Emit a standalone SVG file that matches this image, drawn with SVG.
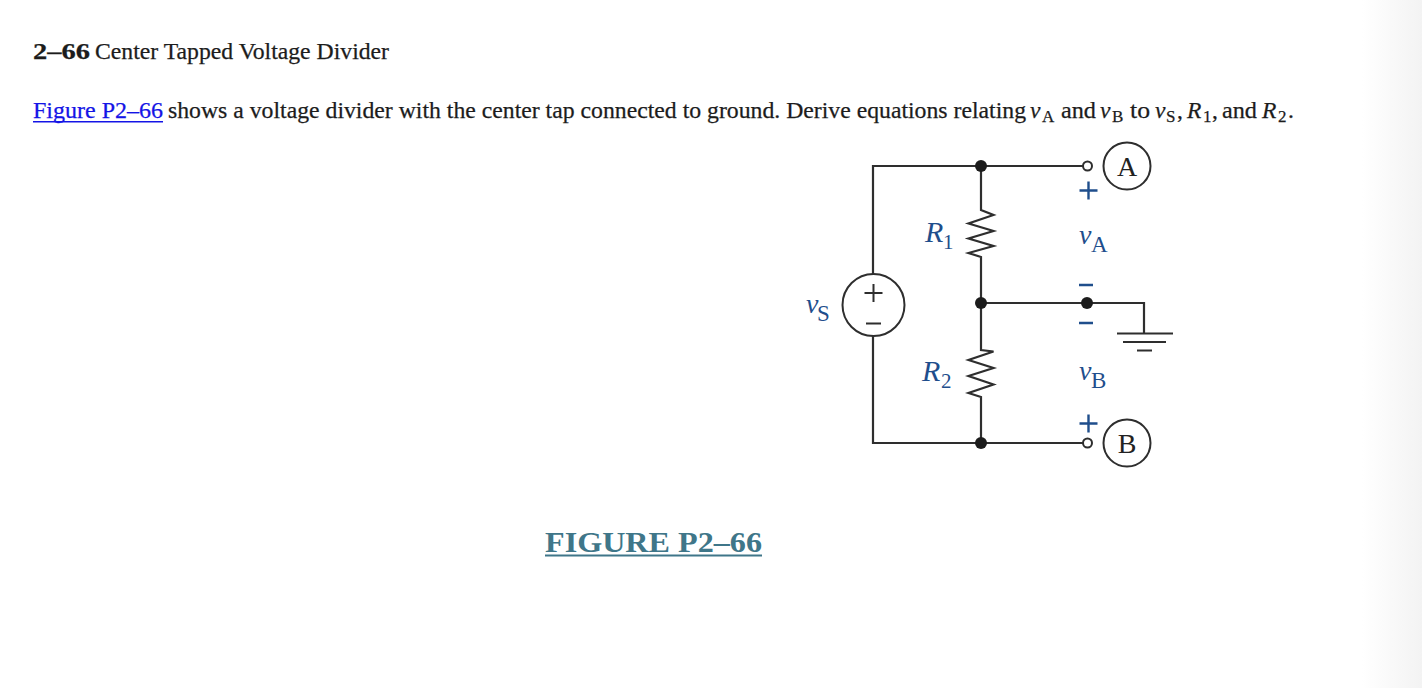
<svg xmlns="http://www.w3.org/2000/svg" width="1422" height="688" viewBox="0 0 1422 688">
<style>
.t{font-family:"Liberation Serif","Times New Roman",serif;font-size:23.5px;fill:#1c1c1c;stroke:#1c1c1c;stroke-width:.25}
.i{font-style:italic}
.s{font-size:17px}
.w{fill:none;stroke:#2e2e2e;stroke-width:2.2;stroke-linejoin:miter}
.d{fill:#1c1c1c}
.l{font-family:"Liberation Serif","Times New Roman",serif;fill:#1f4e8c}
.p{stroke:#1f4e8c;stroke-width:2.4;fill:none}
.c{fill:#fff;stroke:#2e2e2e;stroke-width:2}
.n{font-family:"Liberation Serif","Times New Roman",serif;font-size:28px;fill:#222;text-anchor:middle}
</style>
<defs>
<linearGradient id="edge" x1="0" x2="1" y1="0" y2="0"><stop offset="0" stop-color="#fff"/><stop offset="1" stop-color="#f3f3f3"/></linearGradient>
</defs>
<rect width="1422" height="688" fill="#fff"/>
<rect x="1362" width="60" height="688" fill="url(#edge)"/>

<g id="heading">
<text class="t" x="33" y="59" font-weight="bold" textLength="57" lengthAdjust="spacingAndGlyphs">2–66</text>
<text class="t" x="95" y="59" textLength="294" lengthAdjust="spacingAndGlyphs">Center Tapped Voltage Divider</text>
</g>
<g id="problem-text">
<text class="t" x="33" y="118" style="fill:#1414e6;stroke:#1414e6" textLength="130" lengthAdjust="spacingAndGlyphs">Figure P2–66</text>
<rect x="33" y="121" width="130" height="1.5" fill="#1414e6"/>
<text class="t" x="168" y="118" textLength="858" lengthAdjust="spacingAndGlyphs">shows a voltage divider with the center tap connected to ground. Derive equations relating</text>
<text class="t i" x="1030" y="118">v</text><text class="t s" x="1042" y="122">A</text>
<text class="t" x="1061" y="118" textLength="35" lengthAdjust="spacingAndGlyphs">and</text>
<text class="t i" x="1100" y="118">v</text><text class="t s" x="1112" y="122">B</text>
<text class="t" x="1130" y="118" textLength="20" lengthAdjust="spacingAndGlyphs">to</text>
<text class="t i" x="1155" y="118">v</text><text class="t s" x="1166" y="122">S</text><text class="t" x="1177" y="118">,</text>
<text class="t i" x="1187" y="118">R</text><text class="t s" x="1203" y="122">1</text><text class="t" x="1212" y="118">,</text>
<text class="t" x="1222" y="118" textLength="35" lengthAdjust="spacingAndGlyphs">and</text>
<text class="t i" x="1262" y="118">R</text><text class="t s" x="1278" y="122">2</text><text class="t" x="1288" y="118">.</text>
</g>

<g id="connectors">
<path class="w" d="M1083 166H873V274M873 336V443H1083"/>
<path class="w" d="M981 166V210L993.500 215L968.500 223.500L993.500 231L968.500 238.500L993.500 246L968.500 253L981 257V303V350L993.500 351.500L968.500 360L993.500 368L968.500 376L993.500 384.500L968.500 393L981 397V443"/>
<path class="w" d="M981 303H1144V333.500"/>
<path class="w" d="M1117 333.500H1173M1123 342H1166M1137 350.500H1152"/>
</g>

<g id="source-vs">
<circle class="c" cx="873.500" cy="305" r="31"/>
<path d="M864.500 293H882.500M873.500 284V302M866 323.500H881" fill="none" stroke="#2e2e2e" stroke-width="2"/>
<text class="l i" x="806" y="313" font-size="28">v</text><text class="l" x="817" y="321" font-size="23">S</text>
</g>
<g id="resistor-r1">
<text class="l i" x="925" y="242" font-size="30">R</text><text class="l" x="943" y="249" font-size="21">1</text>
</g>
<g id="resistor-r2">
<text class="l i" x="922" y="381" font-size="30">R</text><text class="l" x="941" y="388" font-size="21">2</text>
</g>
<g id="junction-top"><circle class="d" cx="981" cy="166" r="6"/></g>
<g id="junction-mid"><circle class="d" cx="981" cy="303" r="6"/></g>
<g id="junction-bottom"><circle class="d" cx="981" cy="443" r="6"/></g>
<g id="terminal-mid"><circle class="d" cx="1087" cy="303" r="6"/></g>
<g id="terminal-a">
<circle cx="1087.500" cy="166" r="4.500" class="c"/>
<circle cx="1127" cy="166" r="23.500" class="c"/>
<text class="n" x="1127" y="176">A</text>
</g>
<g id="terminal-b">
<circle cx="1087.500" cy="443" r="4.500" class="c"/>
<circle cx="1127" cy="443" r="23.500" class="c"/>
<text class="n" x="1127" y="453">B</text>
</g>
<g id="voltage-a">
<path class="p" d="M1079.500 190.500H1097.500M1088.500 181.500V199.500M1079 285H1093"/>
<text class="l i" x="1079" y="244" font-size="28">v</text><text class="l" x="1091" y="252" font-size="23">A</text>
</g>
<g id="voltage-b">
<path class="p" d="M1079 323H1093M1079.500 423.500H1097.500M1088.500 414.500V432.500"/>
<text class="l i" x="1079" y="380" font-size="28">v</text><text class="l" x="1091" y="388" font-size="23">B</text>
</g>

<g id="figure-caption">
<text x="545" y="552" font-family="'Liberation Serif','Times New Roman',serif" font-size="30" font-weight="bold" fill="#3f7689" textLength="217" lengthAdjust="spacingAndGlyphs">FIGURE P2–66</text>
<rect x="545" y="554.500" width="217" height="2" fill="#3f7689"/>
</g>
</svg>
